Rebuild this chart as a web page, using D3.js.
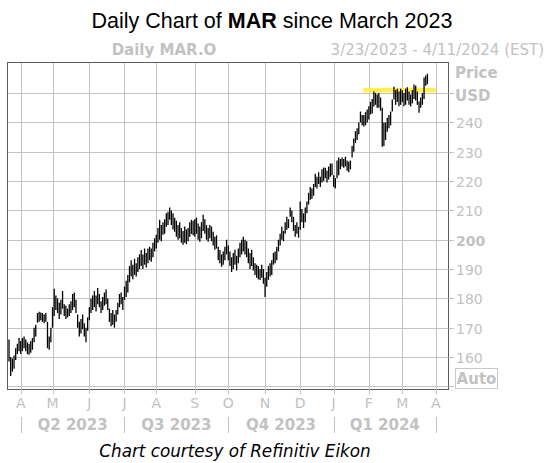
<!DOCTYPE html>
<html>
<head>
<meta charset="utf-8">
<script src="https://cdn.jsdelivr.net/npm/d3@7"></script>
<style>
  body { margin: 0; background: #fff; }
  svg { display: block; }
</style>
</head>
<body>
<div id="chart"></div>
<script>
// daily bars, one per trading day from 3/23/2023 (index 0)
const highs = [
  166, 160, 159.5, 160.5, 163, 164.5, 166.5,
  165.5, 166.5, 167, 166, 165, 164.5, 165.5, 166.5, 170, 171, 175, 175.4, 175.2, 175, 174.5, 175, 172, 167, 170,
  177, 183.3, 181, 180, 178.5, 179.5, 182.5, 178, 177.5, 176.5, 178, 179, 181.5, 182, 179.5, 174.5, 172, 173, 174.5, 171.5, 170, 173.5,
  177, 180, 181, 182.5, 181, 183.5, 181.5, 179, 180.5, 182, 183, 180, 176.5, 175, 176, 174.5, 176, 178.5, 181.5, 182, 180.5,
  184, 186, 188, 191, 193, 191.5, 193.5, 192, 194, 195, 196.5, 195, 197, 195.5, 197, 197.6, 197, 199, 200.5,
  201.7, 204, 206.8, 205, 206, 207, 209, 209.5, 211, 210, 209, 207.5, 206.5, 205, 206, 204, 203, 204.5, 203.5, 204, 206, 206.8, 206.5,
  207, 207.5, 205.5, 204.5, 206, 208.5, 207, 205, 204, 205, 204.5, 202.7, 201, 201.5, 197.6, 196.5, 195, 196, 197.6, 200,
  198, 196, 194, 195.5, 196.6, 194.5, 197, 199, 200, 201, 200, 199.5, 197, 195.5, 196.6, 194, 192, 191.5, 191, 190, 191.5, 190,
  187, 189, 191, 192, 193, 195.5, 196, 197.5, 200, 202, 204.4, 203, 206, 207.8, 207, 211, 210, 207.8, 205, 206, 204.4,
  213, 210.5, 209, 211, 213, 216, 218, 217.5, 219, 222.5, 221.5, 223, 221.5, 224, 224.6, 224.5, 223.5, 225, 226, 226,
  222, 221, 227, 228, 227.5, 228, 227.5, 228.3, 227, 226.6, 227, 232, 234.5, 237, 238, 240, 243.7, 242.5, 242.5, 243.5, 244.4,
  245.5, 247, 248, 250.5, 250, 249.5, 250, 248.5, 245, 240, 240, 241.6, 242.5, 243.7, 247.8, 252.2, 251, 251.5, 250.5, 251.5,
  251, 250, 251.5, 252, 250.5, 249.5, 251, 252.9, 252.5, 250.5, 247.1, 248.5, 250, 255.3, 256, 256.6
];
const lows = [
  158.5, 153.5, 155, 156, 159, 161, 162,
  161, 162, 163, 162, 161, 160.8, 161.5, 162.5, 165, 167, 171.7, 172, 172.5, 172, 171.5, 172, 163, 162.5, 165,
  170, 174, 176, 175, 173, 174.5, 176.5, 174, 173, 173.5, 174, 175, 176, 177, 175, 170, 167, 168, 169.5, 167, 165, 169,
  172.5, 175, 176, 177, 175.5, 178, 177, 175, 176, 177.5, 178, 176, 172, 170.5, 171, 170, 172, 174.5, 177, 178, 176,
  179.5, 180.5, 182, 185.5, 187.5, 186.5, 188, 187.5, 189, 190, 191, 190, 191.5, 190.5, 192, 193, 192.5, 194, 196,
  197, 199, 200, 199.5, 201.7, 202, 204.4, 205, 206.8, 205, 203.5, 202.7, 201, 200, 200.5, 199, 198.3, 199, 198.5, 199.5, 201, 202, 201.5,
  201, 202, 200, 199.3, 200.5, 203, 202, 200, 199.3, 200.5, 199.5, 198, 196.6, 197, 193, 192, 190.8, 191.5, 193, 195,
  193, 191, 189, 190, 191.5, 189.5, 192, 194, 195, 196, 195, 194, 192, 190, 191, 189.5, 188, 187, 186.5, 186.3, 187, 185,
  180.5, 184, 186.3, 187.5, 188, 191.5, 192, 193, 196, 198, 200, 199.5, 202, 203.4, 204, 207.8, 206, 203, 201, 202, 200.7,
  203.4, 206, 204, 206, 209, 212, 213.6, 214, 215, 218, 217.5, 219, 218, 219.5, 220, 221, 219.5, 220.5, 221.5, 222,
  218, 217.5, 221, 222, 224, 225, 224.5, 225, 223.5, 223, 224, 228, 230, 233, 234, 236, 240, 239, 238.6, 239, 240,
  241, 242.7, 243, 245.4, 246, 245, 245, 244, 231.7, 232, 234, 236.8, 238, 239, 243.7, 247.8, 246, 247, 245.5, 246,
  247, 245.5, 246, 247.5, 246, 245.4, 246.5, 248, 247.5, 246, 243.3, 245, 246, 248, 252.5, 253
];

const priceTicks = [150, 160, 170, 180, 190, 200, 210, 220, 230, 240, 250];
const monthLabels = ["A", "M", "J", "J", "A", "S", "O", "N", "D", "J", "F", "M", "A"];
const monthStart = [7, 26, 48, 69, 88, 111, 131, 153, 174, 194, 215, 235, 255];
const quarterLabels = ["Q2 2023", "Q3 2023", "Q4 2023", "Q1 2024"];
const quarterStart = [7, 69, 131, 194, 255];
const resistance = { from: 213, to: 255, price: 251 };

const width = 547, height = 463;
const plot = { left: 7, top: 62, right: 448, bottom: 389 };
const gray = "#c2c2c2";
const axisFont = "'DejaVu Sans', Verdana, sans-serif";

const svg = d3.select("#chart").append("svg")
    .attr("width", width).attr("height", height);

const x = d3.scaleLinear().domain([-1.2, 262.3]).range([plot.left, plot.right]);
const y = d3.scaleLinear().domain([149.1, 260.6]).range([plot.bottom, plot.top]);

// title
const title = svg.append("text")
    .attr("x", 272).attr("y", 28).attr("text-anchor", "middle")
    .style("font-family", "'Liberation Sans', Arial, sans-serif")
    .style("font-size", "21.5px").style("fill", "#000");
title.append("tspan").text("Daily Chart of ");
title.append("tspan").style("font-weight", "bold").text("MAR");
title.append("tspan").text(" since March 2023");

// header
svg.append("text").attr("x", 164).attr("y", 55).attr("text-anchor", "middle")
    .style("font-family", axisFont).style("font-size", "15px").style("font-weight", "bold")
    .style("fill", gray).text("Daily MAR.O");
svg.append("text").attr("x", 544).attr("y", 55).attr("text-anchor", "end")
    .style("font-family", axisFont).style("font-size", "15px")
    .style("fill", gray).text("3/23/2023 - 4/11/2024 (EST)");

// grid
const grid = svg.append("g").attr("stroke", "#c4c4c4").attr("stroke-width", 1);
grid.selectAll(".h").data(priceTicks).join("line")
    .attr("x1", plot.left).attr("x2", plot.right)
    .attr("y1", d => Math.round(y(d)) + 0.5).attr("y2", d => Math.round(y(d)) + 0.5);
grid.selectAll(".v").data(monthStart).join("line")
    .attr("x1", d => Math.round(x(d)) + 0.5).attr("x2", d => Math.round(x(d)) + 0.5)
    .attr("y1", plot.top).attr("y2", plot.bottom);

// resistance band
svg.append("rect")
    .attr("x", x(resistance.from) - 2).attr("width", x(resistance.to) - x(resistance.from) + 2)
    .attr("y", y(resistance.price) - 2.3).attr("height", 4.6)
    .attr("fill", "#fff04f");

// bars
svg.append("g").selectAll("line").data(highs).join("line")
    .attr("x1", (d, i) => x(i)).attr("x2", (d, i) => x(i))
    .attr("y1", d => y(d)).attr("y2", (d, i) => y(lows[i]))
    .attr("stroke", "#000").attr("stroke-width", 1.3);

// frame
svg.append("rect")
    .attr("x", plot.left + 0.5).attr("y", plot.top + 0.5)
    .attr("width", plot.right - plot.left).attr("height", plot.bottom - plot.top)
    .attr("fill", "none").attr("stroke", "#5a5a5a").attr("stroke-width", 1);

// right axis
const yr = svg.append("g");
yr.selectAll("line").data(priceTicks).join("line")
    .attr("x1", plot.right + 0.5).attr("x2", plot.right + 6)
    .attr("y1", d => Math.round(y(d)) + 0.5).attr("y2", d => Math.round(y(d)) + 0.5)
    .attr("stroke", "#c4c4c4");
yr.selectAll("text").data(priceTicks.filter(d => d > 150 && d < 250)).join("text")
    .attr("x", 456).attr("y", d => y(d) + 6)
    .style("font-family", axisFont).style("font-size", "14px")
    .style("font-weight", d => d === 200 ? "bold" : "normal")
    .style("fill", gray).text(d => d);
yr.append("text").attr("x", 455).attr("y", 78)
    .style("font-family", axisFont).style("font-size", "15px").style("font-weight", "bold")
    .style("fill", gray).text("Price");
yr.append("text").attr("x", 455).attr("y", y(250) + 7.5)
    .style("font-family", axisFont).style("font-size", "15px").style("font-weight", "bold")
    .style("fill", gray).text("USD");
yr.append("rect").attr("x", 455.5).attr("y", 368.5).attr("width", 42).attr("height", 20)
    .attr("fill", "none").attr("stroke", "#c8c8c8");
yr.append("text").attr("x", 476.5).attr("y", 384).attr("text-anchor", "middle")
    .style("font-family", axisFont).style("font-size", "15px").style("font-weight", "bold")
    .style("fill", gray).text("Auto");

// bottom axis
const xb = svg.append("g");
xb.selectAll("line").data(monthStart).join("line")
    .attr("x1", d => Math.round(x(d)) + 0.5).attr("x2", d => Math.round(x(d)) + 0.5)
    .attr("y1", plot.bottom).attr("y2", plot.bottom + 5)
    .attr("stroke", "#c4c4c4");
xb.selectAll("text").data(monthStart).join("text")
    .attr("x", d => x(d)).attr("y", 408).attr("text-anchor", "middle")
    .style("font-family", axisFont).style("font-size", "14px")
    .style("fill", gray).text((d, i) => monthLabels[i]);

const qb = svg.append("g");
qb.selectAll("line").data(quarterStart).join("line")
    .attr("x1", d => Math.round(x(d)) + 0.5).attr("x2", d => Math.round(x(d)) + 0.5)
    .attr("y1", 417).attr("y2", 433)
    .attr("stroke", "#c4c4c4");
qb.selectAll("text").data(quarterLabels).join("text")
    .attr("x", (d, i) => (x(quarterStart[i]) + x(quarterStart[i + 1])) / 2)
    .attr("y", 430).attr("text-anchor", "middle")
    .style("font-family", axisFont).style("font-size", "15px").style("font-weight", "bold")
    .style("fill", gray).text(d => d);

// footer
svg.append("text").attr("x", 235).attr("y", 457).attr("text-anchor", "middle")
    .style("font-family", axisFont)
    .style("font-size", "16.8px").style("font-style", "italic")
    .style("fill", "#000").text("Chart courtesy of Refinitiv Eikon");
</script>
</body>
</html>
